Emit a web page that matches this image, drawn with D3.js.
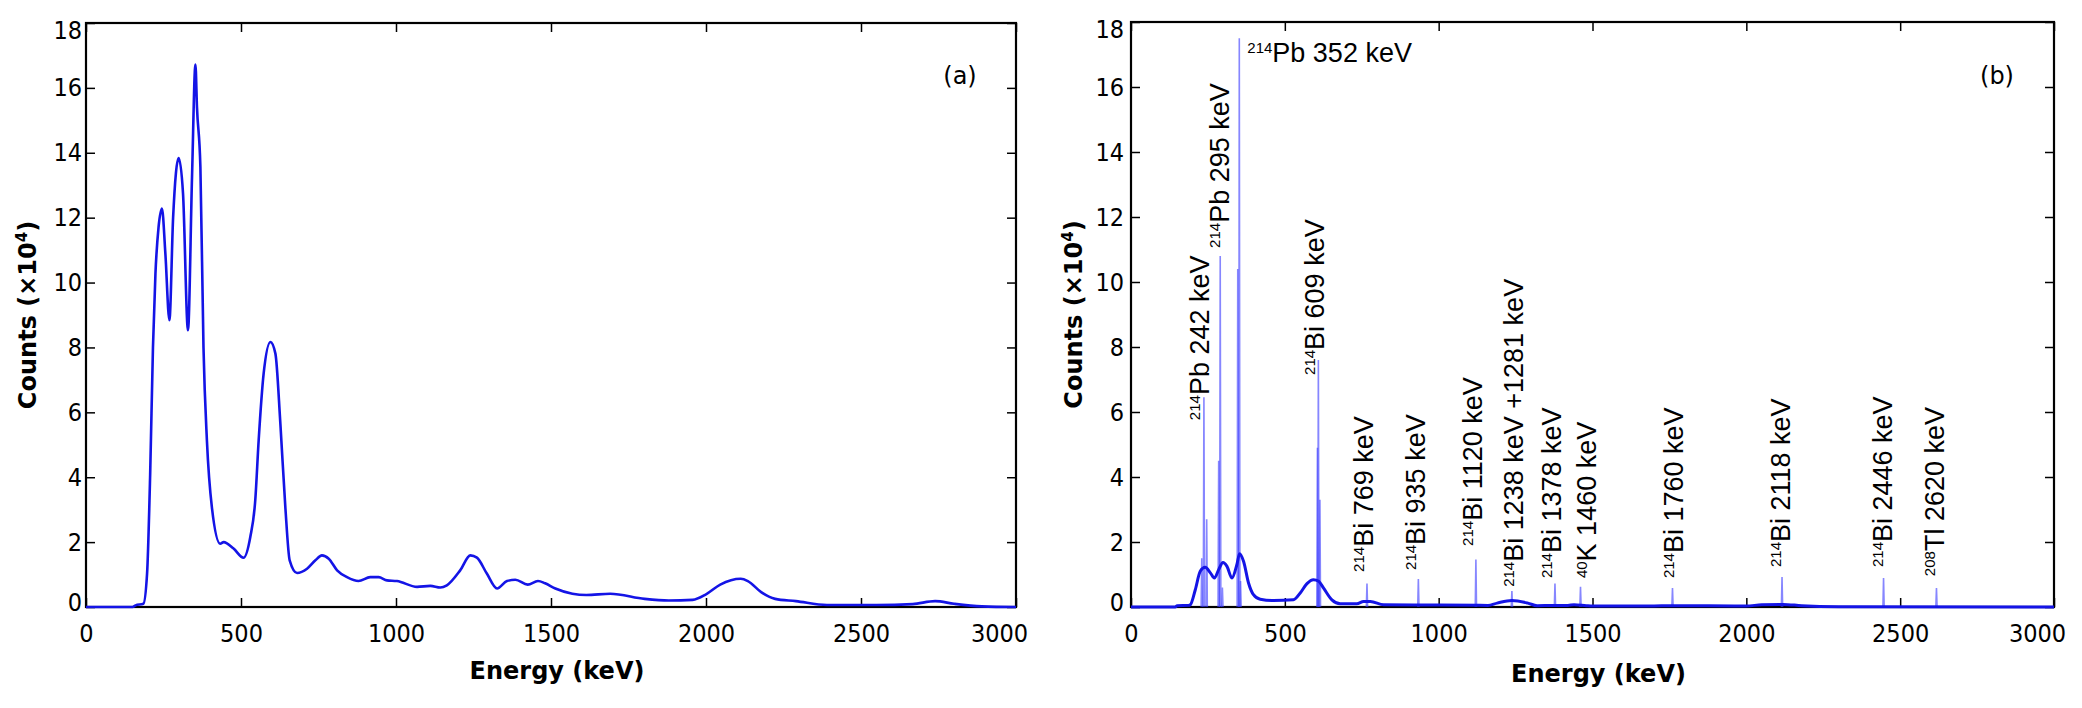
<!DOCTYPE html>
<html>
<head>
<meta charset="utf-8">
<script src="https://cdn.jsdelivr.net/npm/d3@7"></script>
<style>
  body { margin: 0; background: #fff; }
  .axis .tick text { font-family: "DejaVu Sans Condensed", "DejaVu Sans", sans-serif; font-stretch: condensed; font-size: 25px; fill: #000; }
  .axis .tick line { stroke: #000; stroke-width: 1.5; }
  .axis-title { font-family: "DejaVu Sans", sans-serif; font-weight: bold; font-size: 24px; fill: #000; }
  .panel-tag { font-family: "DejaVu Sans", sans-serif; font-size: 24px; fill: #000; }
  .peak-label { font-family: "Liberation Sans", Arial, sans-serif; font-size: 27px; fill: #000; }
</style>
</head>
<body>
<div id="chart"></div>
<script>
/** Data (counts in units of 10^4, energy in keV) */

// spectrum (a)
var energyA = [0, 150, 160, 185, 197, 207, 216, 224, 234, 245, 256, 269, 281, 299, 313, 329, 342, 353, 358, 369, 379, 390, 406, 433, 444, 476, 508, 530, 546, 557, 573, 595, 611, 627, 643, 657, 681, 713, 740, 761, 783, 810, 842, 879, 917, 944, 971, 1003, 1068, 1111, 1143, 1164, 1207, 1240, 1261, 1293, 1326, 1358, 1385, 1425, 1458, 1481, 1514, 1569, 1614, 1691, 1802, 1880, 1957, 2000, 2046, 2112, 2135, 2179, 2223, 2290, 2390, 2550, 2667, 2739, 2800, 2890, 3000];
var countsA = [0, 0, 0.05, 0.1, 1.03, 4.1, 8.0, 10.27, 11.7, 12.28, 10.9, 8.84, 12.0, 13.84, 12.74, 8.53, 13.25, 16.72, 15.4, 13.56, 8.0, 5.14, 3.08, 1.95, 2.0, 1.8, 1.52, 2.16, 3.29, 5.14, 7.19, 8.17, 7.81, 5.65, 3.08, 1.44, 1.05, 1.18, 1.44, 1.59, 1.49, 1.13, 0.92, 0.8, 0.92, 0.92, 0.82, 0.8, 0.62, 0.65, 0.6, 0.67, 1.13, 1.59, 1.52, 1.03, 0.57, 0.8, 0.84, 0.69, 0.8, 0.73, 0.57, 0.41, 0.37, 0.41, 0.25, 0.2, 0.22, 0.39, 0.69, 0.87, 0.8, 0.45, 0.25, 0.18, 0.06, 0.06, 0.09, 0.18, 0.1, 0.02, 0];

// spectrum (b), smoothed curve
var energyB = [0, 144, 150, 187, 193, 209, 225, 241, 258, 271, 285, 299, 312, 328, 344, 353, 366, 382, 398, 420, 463, 528, 550, 572, 593, 610, 626, 653, 680, 734, 756, 778, 821, 1000, 1160, 1190, 1238, 1290, 1320, 1370, 1420, 1440, 1480, 1500, 1700, 1750, 2000, 2050, 2120, 2180, 2300, 3000];
var countsB = [0, 0, 0.04, 0.05, 0.07, 0.53, 1.1, 1.22, 1.05, 0.89, 1.15, 1.37, 1.25, 0.89, 1.3, 1.64, 1.4, 0.74, 0.38, 0.24, 0.2, 0.22, 0.43, 0.72, 0.84, 0.79, 0.58, 0.22, 0.1, 0.1, 0.17, 0.17, 0.07, 0.06, 0.05, 0.12, 0.2, 0.12, 0.04, 0.05, 0.05, 0.07, 0.04, 0.03, 0.03, 0.04, 0.03, 0.07, 0.08, 0.04, 0.01, 0];

// spectrum (b), narrow peaks
var peakEnergy = [230, 237, 246, 285, 290, 297, 347, 352, 356, 606, 609, 614, 767, 934, 1121, 1238, 1378, 1461, 1760, 2116, 2446, 2618];
var peakCounts = [1.5, 6.45, 2.7, 4.5, 10.8, 0.6, 10.4, 17.5, 0.8, 4.9, 7.6, 3.3, 0.72, 0.86, 1.46, 0.49, 0.72, 0.62, 0.58, 0.92, 0.89, 0.58];

// peak annotations
var labelMass = ["214", "214", "214", "214", "214", "214", "214", "214", "214", "40", "214", "214", "214", "208"];
var labelElement = ["Pb", "Pb", "Pb", "Bi", "Bi", "Bi", "Bi", "Bi", "Bi", "K", "Bi", "Bi", "Bi", "Tl"];
var labelText = ["242 keV", "295 keV", "352 keV", "609 keV", "769 keV", "935 keV", "1120 keV", "1238 keV +1281 keV", "1378 keV", "1460 keV", "1760 keV", "2118 keV", "2446 keV", "2620 keV"];
var labelAt = [222, 287, 378, 596, 755, 925, 1108, 1242, 1367, 1479, 1761, 2111, 2441, 2610];
var labelBase = [5.75, 11.05, 16.77, 7.14, 1.08, 1.14, 1.88, 0.62, 0.89, 0.89, 0.89, 1.23, 1.23, 0.95];
var labelVertical = [true, true, false, true, true, true, true, true, true, true, true, true, true, true];

var xTicks = [0, 500, 1000, 1500, 2000, 2500, 3000];
var yTicks = [0, 2, 4, 6, 8, 10, 12, 14, 16, 18];

var BLUE = "#1414e6";

var svg = d3.select("#chart")
  .append("svg")
    .attr("width", 2082)
    .attr("height", 708)
    .style("background", "#fff");

var panelA = drawPanel({left: 86, right: 1016, top: 23, bottom: 607, pad: 4, tag: "(a)", tagX: 960, titleY: 679, ylabX: 36});
var panelB = drawPanel({left: 1131, right: 2054, top: 22, bottom: 607, pad: 7, tag: "(b)", tagX: 1997, titleY: 682, ylabX: 1082});

drawSpectrumA(panelA);
drawSpectrumB(panelB);

function drawPanel(box) {
  var x = d3.scaleLinear().domain([0, 3000]).range([box.left, box.right]);
  var y = d3.scaleLinear().domain([0, 18]).range([box.bottom, box.top]);
  var g = svg.append("g");

  // AXES //
  var xAxis = g.append("g")
    .attr("class", "axis")
    .attr("transform", "translate(0," + box.bottom + ")")
    .call(d3.axisBottom(x).tickValues(xTicks).tickFormat(d3.format("d"))
      .tickSizeInner(-9).tickSizeOuter(0).tickPadding(17));
  xAxis.selectAll(".tick text").filter(function(d) { return d === 3000; }).attr("dx", -17);

  var yAxis = g.append("g")
    .attr("class", "axis")
    .attr("transform", "translate(" + box.left + ",0)")
    .call(d3.axisLeft(y).tickValues(yTicks).tickFormat(d3.format("d"))
      .tickSizeInner(-9).tickSizeOuter(0).tickPadding(box.pad));
  yAxis.selectAll(".tick text").filter(function(d) { return d === 18; }).attr("dy", "0.62em");
  yAxis.selectAll(".tick text").filter(function(d) { return d === 0; }).attr("dy", "0.12em");

  g.append("g")
    .attr("class", "axis")
    .attr("transform", "translate(0," + box.top + ")")
    .call(d3.axisTop(x).tickValues(xTicks).tickSizeInner(-9).tickSizeOuter(0).tickFormat(""));

  g.append("g")
    .attr("class", "axis")
    .attr("transform", "translate(" + box.right + ",0)")
    .call(d3.axisRight(y).tickValues(yTicks).tickSizeInner(-9).tickSizeOuter(0).tickFormat(""));

  g.selectAll(".axis .domain").remove();

  // frame
  g.append("rect")
    .attr("x", box.left)
    .attr("y", box.top)
    .attr("width", box.right - box.left)
    .attr("height", box.bottom - box.top)
    .attr("fill", "none")
    .attr("stroke", "#000")
    .attr("stroke-width", 2.2);

  // titles
  g.append("text")
    .attr("class", "axis-title")
    .attr("text-anchor", "middle")
    .attr("x", (box.left + box.right) / 2 + 6)
    .attr("y", box.titleY)
    .text("Energy (keV)");

  var yl = g.append("text")
    .attr("class", "axis-title")
    .attr("text-anchor", "middle")
    .attr("transform", "translate(" + box.ylabX + "," + ((box.top + box.bottom) / 2) + ") rotate(-90)");
  yl.append("tspan").text("Counts (×10");
  yl.append("tspan").attr("dy", -9).style("font-size", "15px").text("4");
  yl.append("tspan").attr("dy", 9).text(")");

  g.append("text")
    .attr("class", "panel-tag")
    .attr("text-anchor", "middle")
    .attr("x", box.tagX)
    .attr("y", 84)
    .text(box.tag);

  return {x: x, y: y, g: g};
}

function drawSpectrumA(p) {
  var data = energyA.map(function(e, i) { return [e, countsA[i]]; });
  p.g.append("path")
    .datum(data)
    .attr("fill", "none")
    .attr("stroke", BLUE)
    .attr("stroke-width", 2.6)
    .attr("stroke-linejoin", "round")
    .attr("d", d3.line()
      .curve(d3.curveMonotoneX)
      .x(function(d) { return p.x(d[0]); })
      .y(function(d) { return p.y(d[1]); })
    );
}

function drawSpectrumB(p) {
  var line = d3.line()
    .x(function(d) { return p.x(d[0]); })
    .y(function(d) { return p.y(d[1]); });

  // narrow peaks
  p.g.selectAll(".peak")
    .data(peakEnergy)
    .enter()
    .append("path")
      .attr("class", "peak")
      .attr("fill", "none")
      .attr("stroke", "#3535ff")
      .attr("stroke-opacity", 0.6)
      .attr("stroke-width", 1.6)
      .attr("d", function(e, i) { return line([[e - 2, 0], [e, peakCounts[i]], [e + 2, 0]]); });

  // smoothed curve
  var data = energyB.map(function(e, i) { return [e, countsB[i]]; });
  p.g.append("path")
    .datum(data)
    .attr("fill", "none")
    .attr("stroke", BLUE)
    .attr("stroke-width", 3)
    .attr("stroke-linejoin", "round")
    .attr("d", line.curve(d3.curveMonotoneX));

  // labels
  for (var i = 0; i < labelText.length; i++) {
    var t = p.g.append("text").attr("class", "peak-label");
    if (labelVertical[i]) {
      t.attr("transform", "translate(" + p.x(labelAt[i]) + "," + p.y(labelBase[i]) + ") rotate(-90)")
        .attr("y", 9.7);
    } else {
      t.attr("x", p.x(labelAt[i])).attr("y", p.y(labelBase[i]));
    }
    t.append("tspan").attr("dy", -9).style("font-size", "15px").text(labelMass[i]);
    t.append("tspan").attr("dy", 9).text(labelElement[i] + " " + labelText[i]);
  }
}
</script>
</body>
</html>
